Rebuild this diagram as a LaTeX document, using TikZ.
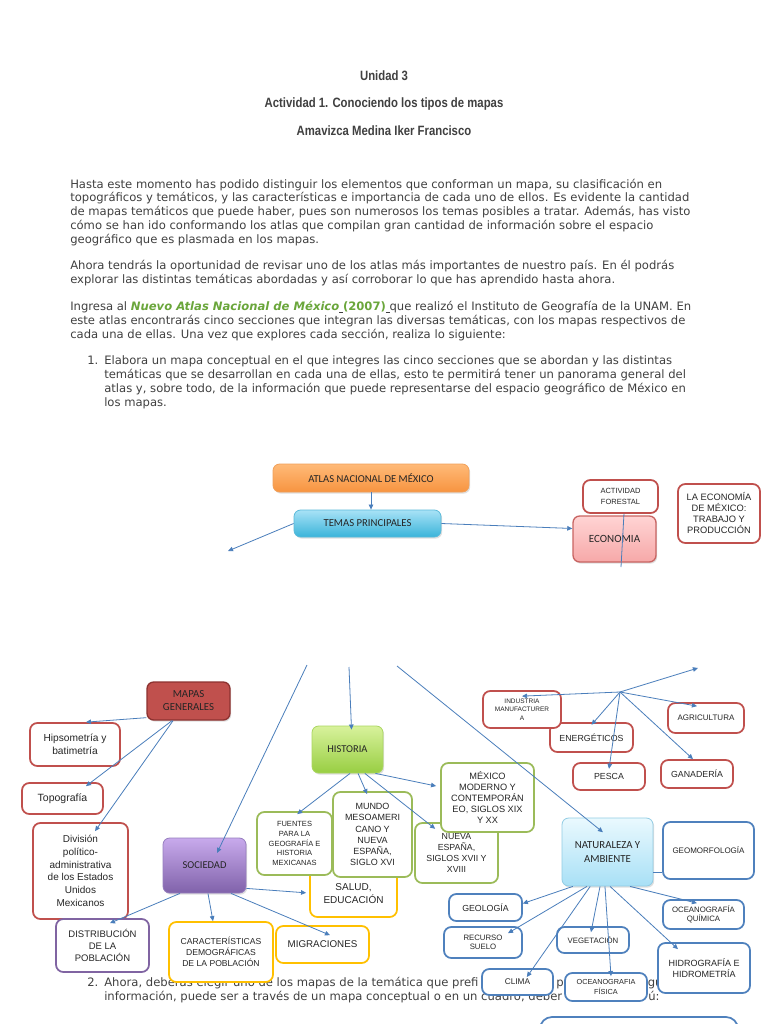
\documentclass[tikz,border=0pt]{standalone}
\usepackage{fontspec}
\setmainfont{DejaVu Sans}
\newfontfamily\libf{Liberation Sans}
\newfontfamily\carf{Carlito}
\newfontfamily\hdrf[FakeStretch=0.84]{Liberation Sans}
\usetikzlibrary{arrows.meta,shadows}
\newcommand\fpx[2]{\fontsize{\fpeval{#1*0.75}pt}{\fpeval{#2*0.75}pt}\selectfont}
\definecolor{redb}{HTML}{C0504D}
\definecolor{greenb}{HTML}{9BBB59}
\definecolor{blueb}{HTML}{4F81BD}
\definecolor{purpb}{HTML}{8064A2}
\definecolor{yelb}{HTML}{FFC000}
\definecolor{arrc}{HTML}{4A7EBB}
\definecolor{bodyc}{HTML}{404040}
\definecolor{linkg}{HTML}{6AA63B}
\definecolor{nodet}{HTML}{262626}
\tikzset{
  bodyline/.style={anchor=base west, inner sep=0pt, text=bodyc, font=\fpx{11.6}{14}},
  hdrline/.style={anchor=base, inner sep=0pt, text=bodyc, font=\hdrf\bfseries\fpx{13.5}{16}},
  boxat/.style n args={4}{at={({(#1+#3)/2},{(#2+#4)/2})}, anchor=center,
     minimum width={(#3-#1)*0.75pt}, minimum height={(#4-#2)*0.75pt}},
  cbox/.style={rounded corners=5.5pt, inner sep=0pt, align=center, text=nodet, line width=1.3pt, fill=white},
  rbox/.style={cbox, draw=redb},
  gbox/.style={cbox, draw=greenb},
  bbox/.style={cbox, draw=blueb},
  pbox/.style={cbox, draw=purpb},
  ybox/.style={cbox, draw=yelb},
  gradbox/.style={rounded corners=5pt, inner sep=0pt, align=center, text=nodet, line width=0.6pt,
    drop shadow={opacity=0.25, shadow xshift=0.9pt, shadow yshift=-1.2pt}},
  arr/.style={draw=arrc, line width=0.6pt, -{Triangle[length=3.8pt,width=3.4pt]}},
  plainln/.style={draw=arrc, line width=0.6pt},
}
\begin{document}
\begin{tikzpicture}[x=0.75pt,y=-0.75pt]
\useasboundingbox (0,0) rectangle (768,1024);
\clip (0,0) rectangle (768,1024);
\fill[white] (0,0) rectangle (768,1024);

% headings
\node[hdrline] (h1) at (384,80) {Unidad 3};
\node[hdrline] (h2) at (384,108) {Actividad 1. Conociendo los tipos de mapas};
\node[hdrline] (h3) at (384,135) {Amavizca Medina Iker Francisco};

% paragraph 1
\node[bodyline] (p11) at (70,188) {Hasta este momento has podido distinguir los elementos que conforman un mapa, su clasificación en};
\node[bodyline] (p12) at (70,201.75) {topográficos y temáticos, y las características e importancia de cada uno de ellos. Es evidente la cantidad};
\node[bodyline] (p13) at (70,215.5) {de mapas temáticos que puede haber, pues son numerosos los temas posibles a tratar. Además, has visto};
\node[bodyline] (p14) at (70,229.25) {cómo se han ido conformando los atlas que compilan gran cantidad de información sobre el espacio};
\node[bodyline] (p15) at (70,243) {geográfico que es plasmada en los mapas.};
% paragraph 2
\node[bodyline] (p21) at (70,269) {Ahora tendrás la oportunidad de revisar uno de los atlas más importantes de nuestro país. En él podrás};
\node[bodyline] (p22) at (70,283) {explorar las distintas temáticas abordadas y así corroborar lo que has aprendido hasta ahora.};
% paragraph 3
\node[bodyline] (p31) at (70,310) {Ingresa al {\color{linkg}\bfseries\itshape Nuevo Atlas Nacional de México}\underline{\ }{\color{linkg}\bfseries(2007)}\underline{\ }que realizó el Instituto de Geografía de la UNAM. En};
\node[bodyline] (p32) at (70,324) {este atlas encontrarás cinco secciones que integran las diversas temáticas, con los mapas respectivos de};
\node[bodyline] (p33) at (70,338) {cada una de ellas. Una vez que explores cada sección, realiza lo siguiente:};
% item 1
\node[bodyline] (i1n) at (87,364) {1.};
\node[bodyline] (i11) at (104,364) {Elabora un mapa conceptual en el que integres las cinco secciones que se abordan y las distintas};
\node[bodyline] (i12) at (104,378) {temáticas que se desarrollan en cada una de ellas, esto te permitirá tener un panorama general del};
\node[bodyline] (i13) at (104,392) {atlas y, sobre todo, de la información que puede representarse del espacio geográfico de México en};
\node[bodyline] (i14) at (104,406) {los mapas.};
% item 2 (partly covered by the map): only the visible pieces
\node[bodyline] (i2n) at (87,986) {2.};
\node[bodyline] (i21) at (104,986) {Ahora, deberás elegir uno de los mapas de la temática que prefi};
\node[bodyline] (i21b) at (556,986) {p};
\node[bodyline] (i21c) at (647.5,986) {gu};
\node[bodyline] (i22) at (104,1000) {información, puede ser a través de un mapa conceptual o en un cuadro, deber};
\node[bodyline] (i22b) at (648,1000) {ú:};

% ===== concept map: top part
\node[gradbox, top color={rgb,255:red,255;green,186;blue,120}, bottom color={rgb,255:red,247;green,148;blue,64}, draw={rgb,255:red,240;green,160;blue,90},
  font=\carf\fpx{10.6}{12}, boxat={273}{464}{469}{492}] (atlas) {ATLAS NACIONAL DE MÉXICO};
\node[gradbox, top color={rgb,255:red,168;green,226;blue,246}, bottom color={rgb,255:red,58;green,180;blue,218}, draw={rgb,255:red,90;green,186;blue,218},
  font=\carf\fpx{10.7}{12}, boxat={294}{510}{441}{537}] (temas) {TEMAS PRINCIPALES};
\node[rbox, font=\libf\fpx{7.5}{11}, boxat={583}{480}{658}{513}] (forestal) {ACTIVIDAD\\FORESTAL};
\node[gradbox, top color={rgb,255:red,255;green,212;blue,212}, bottom color={rgb,255:red,246;green,168;blue,168}, draw={rgb,255:red,200;green,100;blue,98}, line width=1pt,
  font=\carf\fpx{11}{12}, boxat={573}{516}{656}{562}] (econ) {ECONOMIA};
\node[rbox, font=\libf\fpx{9.3}{11}, boxat={678}{484}{760}{543}] (laeco) {LA ECONOMÍA\\DE MÉXICO:\\TRABAJO Y\\PRODUCCIÓN};

% economy sub-topics
\node[rbox, font=\libf\fpx{8.8}{11}, boxat={550}{723}{633}{752}] (ener) {ENERGÉTICOS};
\node[rbox, font=\libf\fpx{6.5}{8.3}, boxat={483}{691}{561}{728}] (ind) {INDUSTRIA\\MANUFACTURER\\A};
\node[rbox, font=\libf\fpx{8}{10}, boxat={668}{703}{744}{733}] (agri) {AGRICULTURA};
\node[rbox, font=\libf\fpx{8.8}{10}, boxat={573}{763}{645}{790}] (pesca) {PESCA};
\node[rbox, font=\libf\fpx{8.8}{10}, boxat={661}{760}{733}{788}] (gana) {GANADERÍA};

% mapas generales
\node[gradbox, fill=redb, draw={rgb,255:red,140;green,50;blue,48}, line width=1pt,
  font=\carf\fpx{10.8}{13}, boxat={147}{682}{230}{720}] (mg) {MAPAS\\GENERALES};
\node[rbox, font=\libf\fpx{10.2}{13}, boxat={30}{723}{120}{766}] (hips) {Hipsometría y\\batimetría};
\node[rbox, font=\libf\fpx{10.5}{13}, boxat={22}{783}{103}{814}] (topo) {Topografía};
\node[rbox, font=\libf\fpx{10}{12.7}, boxat={33}{823}{128}{919}] (divi) {División\\político-\\administrativa\\de los Estados\\Unidos\\Mexicanos};

% historia
\node[gradbox, top color={rgb,255:red,216;green,242;blue,156}, bottom color={rgb,255:red,152;green,206;blue,66}, draw={rgb,255:red,170;green,214;blue,96},
  font=\carf\fpx{10.5}{12}, boxat={312}{726}{383}{773}] (hist) {HISTORIA};
\node[ybox, font=\libf\fpx{10}{13}, boxat={310}{866}{397}{917}] (salud) {\rule{0pt}{8pt}SALUD,\\EDUCACIÓN};
\node[gbox, font=\libf\fpx{7.5}{9.7}, boxat={257}{812}{332}{875}] (fuentes) {FUENTES\\PARA LA\\GEOGRAFÍA E\\HISTORIA\\MEXICANAS};
\node[gbox, font=\libf\fpx{9}{11.2}, boxat={333}{792}{412}{877}] (mundo) {MUNDO\\MESOAMERI\\CANO Y\\NUEVA\\ESPAÑA,\\SIGLO XVI};
\node[gbox, font=\libf\fpx{8.8}{11}, boxat={415}{823}{498}{883}] (nueva) {NUEVA\\ESPAÑA,\\SIGLOS XVII Y\\XVIII};
\node[gbox, font=\libf\fpx{9.2}{10.8}, boxat={441}{763}{534}{832}] (mexmod) {MÉXICO\\MODERNO Y\\CONTEMPORÁN\\EO, SIGLOS XIX\\Y XX};

% sociedad
\node[gradbox, top color={rgb,255:red,200;green,170;blue,236}, bottom color={rgb,255:red,128;green,98;blue,170}, draw={rgb,255:red,150;green,126;blue,190},
  font=\carf\fpx{10.5}{12}, boxat={163}{838}{246}{893}] (soc) {SOCIEDAD};
\node[pbox, font=\libf\fpx{9.5}{12.3}, boxat={56}{919}{149}{972}] (distr) {DISTRIBUCIÓN\\DE LA\\POBLACIÓN};
\node[ybox, font=\libf\fpx{8.6}{11}, boxat={169}{922}{273}{982}] (carac) {CARACTERÍSTICAS\\DEMOGRÁFICAS\\DE LA POBLACIÓN};
\node[ybox, font=\libf\fpx{9.8}{12}, boxat={276}{926}{369}{963}] (migr) {MIGRACIONES};

% naturaleza y ambiente
\node[gradbox, top color={rgb,255:red,234;green,249;blue,254}, bottom color={rgb,255:red,168;green,224;blue,246}, draw={rgb,255:red,146;green,204;blue,228},
  font=\carf\fpx{10.8}{14}, boxat={562}{818}{653}{886}] (nat) {NATURALEZA Y\\AMBIENTE};
\node[bbox, font=\libf\fpx{8}{10}, boxat={663}{822}{754}{879}] (geom) {GEOMORFOLOGÍA};
\node[bbox, font=\libf\fpx{8.8}{10}, boxat={449}{894}{522}{921}] (geol) {GEOLOGÍA};
\node[bbox, font=\libf\fpx{7.8}{9.3}, boxat={444}{927}{522}{958}] (recur) {RECURSO\\SUELO};
\node[bbox, font=\libf\fpx{7.8}{9.5}, boxat={557}{927}{629}{953}] (veget) {VEGETACIÓN};
\node[bbox, font=\libf\fpx{7.8}{9}, boxat={663}{900}{744}{929}] (ocq) {OCEANOGRAFÍA\\QUÍMICA};
\node[bbox, font=\libf\fpx{9}{11.3}, boxat={658}{943}{750}{993}] (hidro) {HIDROGRAFÍA E\\HIDROMETRÍA};
\node[bbox, font=\libf\fpx{8.3}{10}, boxat={482}{969}{553}{995}] (clima) {CLIMA};
\node[bbox, font=\libf\fpx{7.3}{9.7}, boxat={565}{973}{647}{1001}] (ocf) {OCEANOGRAFIA\\FÍSICA};
\node[bbox, rounded corners=9pt, boxat={540}{1017}{738}{1060}] (lower) {};

% ===== connectors
\coordinate (e0) at (228,551);
\coordinate (e1) at (621,567);
\coordinate (hubE) at (620,692);
\coordinate (eTR) at (698,668);
\coordinate (t1) at (307,665);
\coordinate (t2) at (349,667);
\coordinate (t3) at (397,666);

\draw[arr] (atlas.south) -- (atlas.south |- temas.north);
\draw[arr] (temas.west) -- (e0);
\draw[arr] (temas.east) -- (econ.166);
\draw[plainln] ([xshift=2.6pt]forestal.south) -- (e1);

\draw[arr] (hubE) -- ([yshift=-4.5pt]ind.north);
\draw[arr] (hubE) -- (eTR);
\draw[arr] (hubE) -- ([xshift=-6.75pt,yshift=-3pt]agri.north);
\draw[arr] (hubE) -- ([yshift=-2pt]ener.north);
\draw[arr] (hubE) -- ([yshift=-5pt]pesca.north);
\draw[arr] (hubE) -- ([xshift=-3pt]gana.north);

\draw[arr] (t1) -- ([xshift=9.4pt,yshift=9.4pt]soc.center);
\draw[arr] (t2) -- ([xshift=3pt,yshift=-3pt]hist.north);
\draw[arr] (t3) -- ([xshift=-3.4pt,yshift=-11pt]nat.north);

\draw[arr] ([yshift=2.25pt]mg.south west) -- ([xshift=8.25pt]hips.north);
\draw[arr] ([xshift=-12.4pt]mg.south) -- ([xshift=17.6pt,yshift=-3pt]topo.north);
\draw[arr] ([xshift=-11.6pt]mg.south) -- ([xshift=10.9pt,yshift=-6.75pt]divi.north);

\draw[arr] ([xshift=1.9pt]hist.south) -- ([xshift=2pt,yshift=-2.25pt]fuentes.north);
\draw[arr] ([xshift=7.9pt]hist.south) -- ([xshift=-4pt,yshift=-2.25pt]mundo.north);
\draw[arr] ([xshift=13pt]hist.south) -- ([xshift=-16pt,yshift=-5pt]nueva.north);
\draw[arr] ([xshift=-6pt]hist.south east) -- ([xshift=-3pt,yshift=8.6pt]mexmod.west);

\draw[arr] ([xshift=-18.4pt]soc.south) -- ([xshift=5.6pt,yshift=-3.75pt]distr.north);
\draw[arr] ([xshift=2.6pt]soc.south) -- ([xshift=-6pt]carac.north);
\draw[arr] ([xshift=19.9pt]soc.south) -- ([xshift=5.6pt,yshift=7pt]migr.center);
\draw[arr] ([yshift=3.75pt]soc.south east) -- ([xshift=-2.25pt,yshift=-1pt]salud.west);

\draw[arr] ([xshift=-26pt]nat.south) -- ([yshift=3pt]geol.east);
\draw[arr] ([xshift=-15.4pt]nat.south) -- ([xshift=18.75pt,yshift=7pt]recur.center);
\draw[arr] ([xshift=-13pt]nat.south) -- ([xshift=7pt,yshift=3.75pt]clima.center);
\draw[arr] ([xshift=-5.6pt]nat.south) -- ([xshift=-1.5pt,yshift=-4.5pt]veget.north);
\draw[arr] ([xshift=-1.9pt]nat.south) -- ([xshift=3.75pt,yshift=-3pt]ocf.north);
\draw[arr] ([xshift=16.9pt]nat.south) -- ([xshift=-4.9pt,yshift=-3pt]ocq.north);
\draw[arr] ([xshift=1.9pt]nat.south) -- ([xshift=-19.5pt,yshift=-5.25pt]hidro.north);
\draw[plainln] ([yshift=-15pt]nat.east) -- ([yshift=-15pt]nat.east -| geom.west);
\end{tikzpicture}
\end{document}
